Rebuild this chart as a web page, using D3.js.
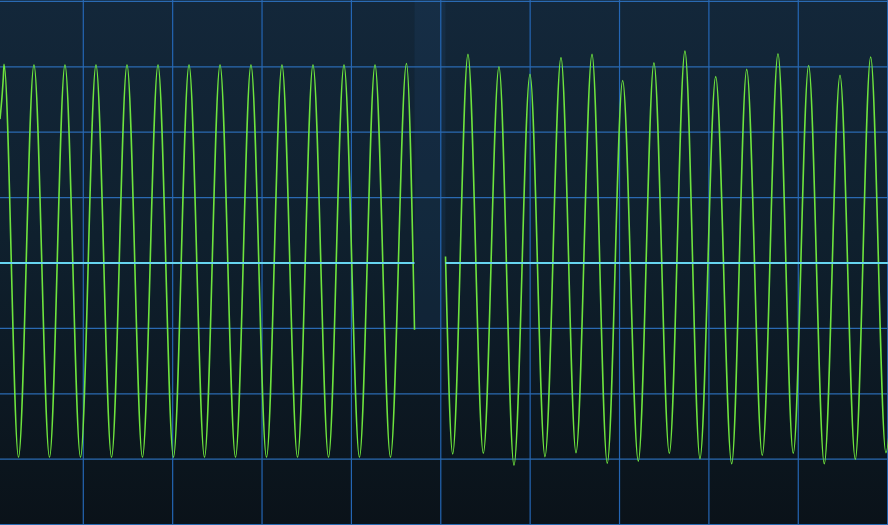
<!DOCTYPE html>
<html>
<head>
<meta charset="utf-8">
<script src="https://cdn.jsdelivr.net/npm/d3@7"></script>
<style>
  html, body { margin: 0; padding: 0; background: #0b141c; overflow: hidden; }
  svg { display: block; }
</style>
</head>
<body>
<svg id="chart" width="888" height="525"></svg>
<script>
// ---- data (time in ms, amplitude in volts) ----
const xDomain = [-9.32, 90.04];
const yDomain = [-4, 4];
const xGridTicks = [0, 10, 20, 30, 40, 50, 60, 70, 80, 90];
const yGridTicks = [-4, -3, -2, -1, 0, 1, 2, 3, 4];

// segment 1 (before dropout): extrema of the trace
const seg1Time = [-9.32, -8.95, -8.87, -7.25, -5.52, -3.78, -2.05, -0.31, 1.42, 3.16, 4.89, 6.62, 8.36,
  10.09, 11.83, 13.56, 15.30, 17.03, 18.76, 20.50, 22.23, 23.97, 25.70, 27.44, 29.17,
  30.90, 32.64, 34.37, 36.16, 37.06];
const seg1Value = [2.20, 2.83, 3.04, -2.97, 3.03, -2.97, 3.03, -2.97, 3.03, -2.97, 3.03, -2.97, 3.03,
  -2.97, 3.03, -2.97, 3.03, -2.97, 3.03, -2.97, 3.03, -2.97, 3.03, -2.97, 3.03,
  -2.97, 3.03, -2.97, 3.05, -1.02];

// segment 2 (after dropout)
const seg2Time = [40.53, 41.33, 43.04, 44.76, 46.51, 48.19, 49.98, 51.66, 53.45, 55.13, 56.92, 58.63,
  60.35, 62.10, 63.85, 65.57, 67.32, 69.00, 70.76, 72.55, 74.23, 75.97, 77.73, 79.44,
  81.16, 82.91, 84.67, 86.38, 88.10, 89.80, 91.60];
const seg2Value = [0.10, -2.92, 3.19, -2.91, 3.00, -3.09, 2.885, -2.96, 3.14, -2.90, 3.19, -3.06,
  2.79, -3.03, 3.06, -2.91, 3.24, -2.99, 2.85, -3.07, 2.96, -2.94, 3.20, -2.91,
  3.02, -3.07, 2.87, -3.00, 3.15, -2.90, 3.10];

const gapFloor = -1; // bottom of the dropout highlight

// ---- drawing ----
const W = 888, H = 525;
const svg = d3.select("#chart");
const x = d3.scaleLinear().domain(xDomain).range([0, W]);
const y = d3.scaleLinear().domain(yDomain).range([524.6, 1.4]);

const defs = svg.append("defs");
const grad = defs.append("linearGradient").attr("id", "bg")
  .attr("x1", 0).attr("y1", 0).attr("x2", 0).attr("y2", 1);
grad.append("stop").attr("offset", "0%").attr("stop-color", "#13273a");
grad.append("stop").attr("offset", "45%").attr("stop-color", "#0f202e");
grad.append("stop").attr("offset", "100%").attr("stop-color", "#0a1219");
defs.append("clipPath").attr("id", "clip").append("rect")
  .attr("x", 0).attr("y", 0).attr("width", W).attr("height", H);

svg.append("rect").attr("width", W).attr("height", H).attr("fill", "url(#bg)");

// dropout highlight
const s1End = seg1Time[seg1Time.length - 1], s2Start = seg2Time[0];
svg.append("rect")
  .attr("x", x(s1End)).attr("y", 0)
  .attr("width", x(s2Start) - x(s1End))
  .attr("height", y(gapFloor))
  .attr("fill", "#2a5a8a").attr("fill-opacity", 0.15);

// grid
const g = svg.append("g").attr("clip-path", "url(#clip)");
g.selectAll("line.v").data(xGridTicks).join("line").attr("class", "v")
  .attr("x1", d => x(d)).attr("x2", d => x(d))
  .attr("y1", 0).attr("y2", H)
  .attr("stroke", "#2466b4").attr("stroke-width", 1.2);
g.selectAll("line.h").data(yGridTicks.filter(d => d !== 0)).join("line").attr("class", "h")
  .attr("y1", d => y(d)).attr("y2", d => y(d))
  .attr("x1", 0).attr("x2", W)
  .attr("stroke", "#2a6ab2").attr("stroke-width", 1.2);

// traces
const line = d3.line().x(d => x(d[0])).y(d => y(d[1])).curve(d3.curveMonotoneX);
const segs = [
  d3.zip(seg1Time, seg1Value),
  d3.zip(seg2Time, seg2Value)
];
g.selectAll("path.trace").data(segs).join("path").attr("class", "trace")
  .attr("d", line)
  .attr("fill", "none")
  .attr("stroke", "#6ee43e")
  .attr("stroke-width", 1.6)
  .attr("stroke-linejoin", "round");

// zero baseline per segment
g.selectAll("line.zero").data(segs).join("line").attr("class", "zero")
  .attr("x1", d => Math.max(0, x(d[0][0])))
  .attr("x2", d => Math.min(W, x(d[d.length - 1][0])))
  .attr("y1", y(0)).attr("y2", y(0))
  .attr("stroke", "#66d4ee").attr("stroke-width", 2);
</script>
</body>
</html>
